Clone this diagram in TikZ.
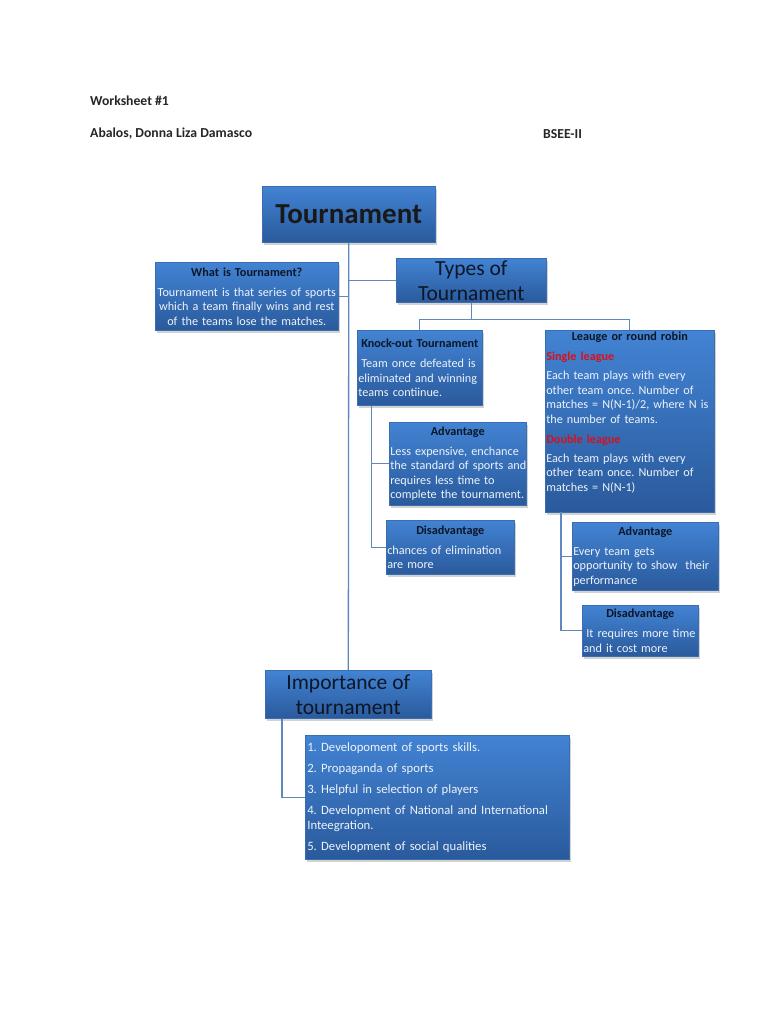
\documentclass[tikz,border=0pt]{standalone}
\usepackage{fontspec}
\setmainfont{Carlito}
\usetikzlibrary{shadows}
\frenchspacing
\definecolor{boxtop}{HTML}{4283D3}
\definecolor{boxbot}{HTML}{2A5A9C}
\definecolor{boxline}{HTML}{3B6DB2}
\definecolor{linkblue}{HTML}{5F88BE}
\definecolor{titlecol}{HTML}{0C1626}
\definecolor{bodytext}{HTML}{EEF3FA}
\definecolor{leaguered}{HTML}{D8101C}
\tikzset{
  box/.style={anchor=north west, draw=boxline, line width=0.6pt, top color=boxtop, bottom color=boxbot,
    align=left, inner xsep=1pt, inner ysep=2pt, text=bodytext, font=\fontsize{12.2}{14.5}\selectfont,
    drop shadow={shadow xshift=2pt, shadow yshift=-2.5pt, opacity=0.35}},
  bigbox/.style={box, align=center, inner sep=0pt, text=titlecol, font=\fontsize{21.5}{25}\selectfont},
  link/.style={draw=linkblue, line width=1.3pt},
  header/.style={anchor=west, inner sep=0pt, font=\fontsize{13.7}{16}\selectfont\bfseries, text=black!85}
}
\newcommand{\boxhead}[1]{{\centering\bfseries\color{titlecol}#1\par}\vspace{5.5pt}}
\newcommand{\redhead}[1]{{\bfseries\color{leaguered}#1\par}\vspace{4.5pt}}
\begin{document}
\begin{tikzpicture}[x=1pt,y=-1pt]
            \fill[white] (0,0) rectangle (768,1024);
            \useasboundingbox (0,0) rectangle (768,1024);
            \node[header] (sheet) at (90,101) {Worksheet \#1};
            \node[header] (student) at (90,134) {Abalos, Donna Liza Damasco};
            \node[header] (course) at (543,134) {BSEE-II};
            \node[bigbox, minimum width=173pt, minimum height=56pt, font=\fontsize{29}{32}\selectfont\bfseries, text=black!90] (tour) at (262,186) {Tournament};
            \node[box, text width=181pt, minimum height=68pt] (whatis) at (155,262)
              {\boxhead{What is Tournament?}{\centering Tournament is that series of sports\\ which a team finally wins and rest\\ of the teams lose the matches.\par}};
            \node[bigbox, minimum width=150pt, minimum height=44pt] (types) at (396,258) {Types of\\Tournament};
            \node[box, text width=123pt, minimum height=75pt] (ko) at (357,330)
              {\boxhead{Knock-out Tournament}\hspace*{3pt}Team once defeated is\\ eliminated and winning\\ teams contiinue.};
            \node[box, text width=167pt, minimum height=178pt] (league) at (545,330)
              {\boxhead{Leauge or round robin}\redhead{Single league}Each team plays with every\\ other team once. Number of\\ \mbox{matches = N(N-1)/2, where N is}\\ the number of teams.\par\vspace{5.5pt}
               \redhead{Double league}Each team plays with every\\ other team once. Number of\\ matches = N(N-1)\par\vspace{17pt}};
            \node[box, text width=135pt, minimum height=83pt] (koadv) at (389,422)
              {\boxhead{Advantage}Less expensive, enchance\\ \mbox{the standard of sports and}\\ requires less time to\\ \mbox{complete the tournament.}};
            \node[box, text width=126pt, minimum height=54pt] (kodis) at (386,520)
              {\boxhead{Disadvantage}chances of elimination\\ are more};
            \node[box, text width=144pt, minimum height=68pt] (leagueadv) at (572,522)
              {\boxhead{Advantage}Every team gets\\ opportunity to show\ \ their\\ performance};
            \node[box, text width=114pt, minimum height=51pt] (leaguedis) at (582,605)
              {\boxhead{Disadvantage}\hspace*{3pt}\mbox{It requires more time}\\ and it cost more};
            \node[bigbox, minimum width=166pt, minimum height=48pt] (imp) at (265,670) {Importance of\\tournament};
            \node[box, text width=260pt, inner xsep=2pt, minimum height=124pt, font=\fontsize{12.7}{15}\selectfont] (uses) at (305,735)
              {1. Developoment of sports skills.\par\vspace{6pt}
               2. Propaganda of sports\par\vspace{6pt}
               3. Helpful in selection of players\par\vspace{6pt}
               4. Development of National and International\\ Inteegration.\par\vspace{6pt}
               5. Development of social qualities};
            \path (types.south) ++(0,17) coordinate (fork);
            \draw[link] (tour.south) -- (imp.north);
            \draw[link] (tour.south |- types.west) -- (types.west);
            \draw[link] (whatis.east) -- (whatis.east -| tour.south);
            \draw[link] (types.south) -- (fork);
            \draw[link] (ko.north) |- (fork) -| (league.north);
            \draw[link] ([xshift=-48pt]ko.south) |- (koadv.west);
            \draw[link] ([xshift=-48pt]ko.south) |- (kodis.west);
            \draw[link] ([xshift=16pt]league.south west) |- (leagueadv.west);
            \draw[link] ([xshift=16pt]league.south west) |- (leaguedis.west);
            \draw[link] ([xshift=17pt]imp.south west) |- (uses.west);
        \end{tikzpicture}
\end{document}
